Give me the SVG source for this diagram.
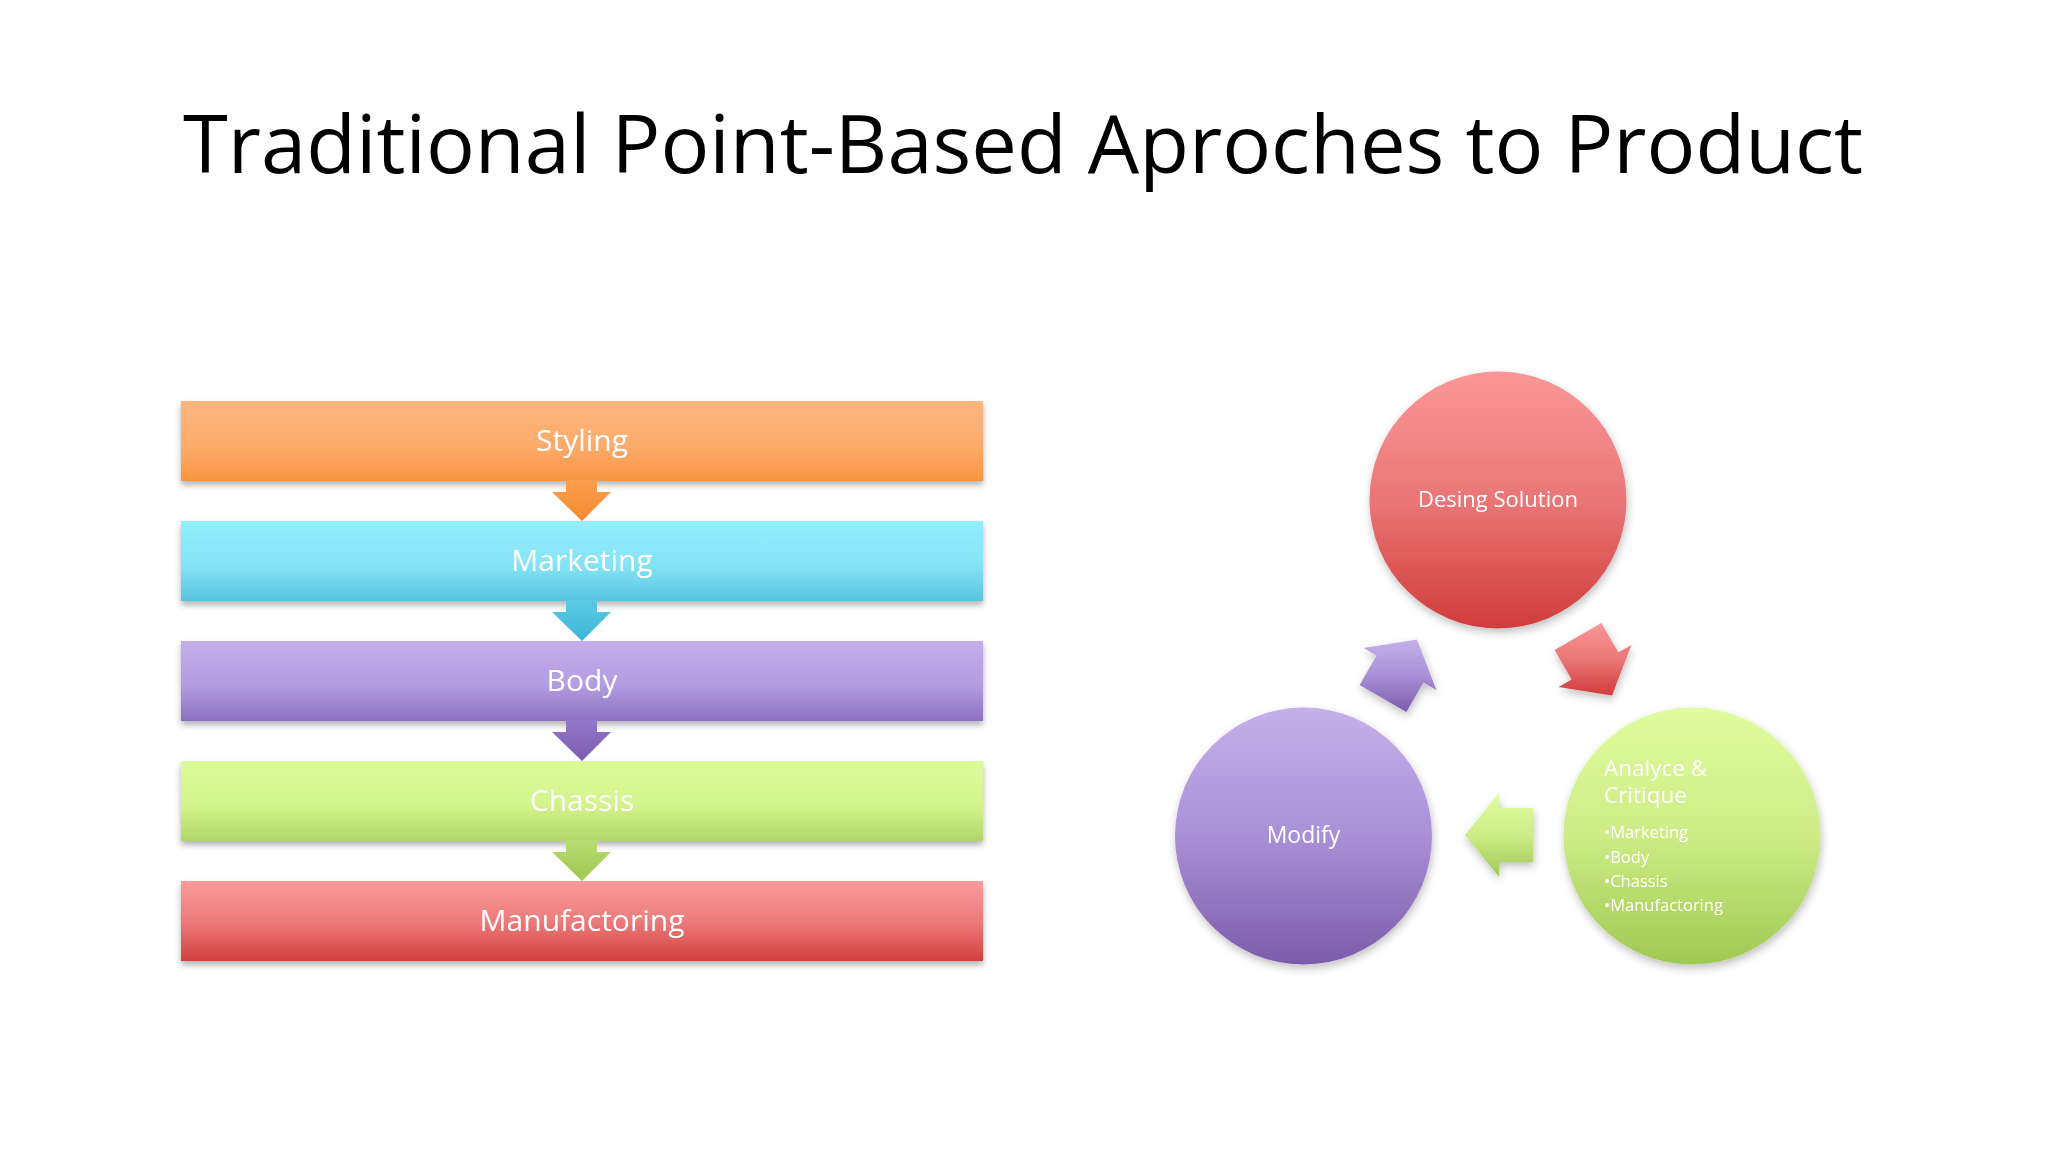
<svg xmlns="http://www.w3.org/2000/svg" width="2048" height="1152" viewBox="0 0 2048 1152">
<defs>
<style>
.title{font-family:"Open Sans","Noto Sans","Liberation Sans",sans-serif;font-size:80px;fill:#000}
.bt{font-family:"Open Sans","Noto Sans","Liberation Sans",sans-serif;font-size:30px;fill:#fff;text-anchor:middle}
.ct{font-family:"Open Sans","Noto Sans","Liberation Sans",sans-serif;font-size:22px;fill:#fff}
.sb{font-family:"Open Sans","Noto Sans","Liberation Sans",sans-serif;font-size:16.5px;fill:#fff}
.mid{text-anchor:middle}
</style>
<filter id="sh" x="-10%" y="-20%" width="120%" height="160%">
<feDropShadow dx="0" dy="4" stdDeviation="3" flood-color="#000" flood-opacity="0.3"/>
</filter>
<filter id="csh" x="-20%" y="-20%" width="140%" height="140%">
<feDropShadow dx="1" dy="4" stdDeviation="4" flood-color="#000" flood-opacity="0.25"/>
</filter>
<linearGradient id="gOr" x1="0" y1="0" x2="0" y2="1"><stop offset="0" stop-color="#fdb67e"/><stop offset="0.55" stop-color="#fcac6c"/><stop offset="1" stop-color="#f8953f"/></linearGradient>
<linearGradient id="gBl" x1="0" y1="0" x2="0" y2="1"><stop offset="0" stop-color="#93eefc"/><stop offset="0.55" stop-color="#86e3f5"/><stop offset="1" stop-color="#57c4df"/></linearGradient>
<linearGradient id="gPu" x1="0" y1="0" x2="0" y2="1"><stop offset="0" stop-color="#c3aeea"/><stop offset="0.55" stop-color="#b39ce0"/><stop offset="1" stop-color="#8b71c1"/></linearGradient>
<linearGradient id="gGr" x1="0" y1="0" x2="0" y2="1"><stop offset="0" stop-color="#defb9c"/><stop offset="0.55" stop-color="#d3f48c"/><stop offset="1" stop-color="#afd56a"/></linearGradient>
<linearGradient id="gRd" x1="0" y1="0" x2="0" y2="1"><stop offset="0" stop-color="#fa9c9c"/><stop offset="0.5" stop-color="#ec7b7b"/><stop offset="1" stop-color="#d33f3f"/></linearGradient>
<linearGradient id="aOr" x1="0" y1="0" x2="0" y2="1"><stop offset="0" stop-color="#fb9e50"/><stop offset="1" stop-color="#f58a30"/></linearGradient>
<linearGradient id="aBl" x1="0" y1="0" x2="0" y2="1"><stop offset="0" stop-color="#5ccbe4"/><stop offset="1" stop-color="#3db5d6"/></linearGradient>
<linearGradient id="aPu" x1="0" y1="0" x2="0" y2="1"><stop offset="0" stop-color="#9478ca"/><stop offset="1" stop-color="#7a5bb2"/></linearGradient>
<linearGradient id="aGr" x1="0" y1="0" x2="0" y2="1"><stop offset="0" stop-color="#b8dc72"/><stop offset="1" stop-color="#9ec752"/></linearGradient>
<linearGradient id="cRd" x1="0" y1="0" x2="0" y2="1"><stop offset="0" stop-color="#fb9797"/><stop offset="0.5" stop-color="#ea7676"/><stop offset="1" stop-color="#d13c3c"/></linearGradient>
<linearGradient id="cPu" x1="0" y1="0" x2="0" y2="1"><stop offset="0" stop-color="#c5b0eb"/><stop offset="0.5" stop-color="#a890d6"/><stop offset="1" stop-color="#7b5cab"/></linearGradient>
<linearGradient id="cGr" x1="0" y1="0" x2="0" y2="1"><stop offset="0" stop-color="#e1fc9f"/><stop offset="0.5" stop-color="#cdec86"/><stop offset="1" stop-color="#9fc953"/></linearGradient>
</defs>
<rect x="0" y="0" width="2048" height="1152" fill="#ffffff"/>
<text class="title" x="183" y="173" textLength="1680" lengthAdjust="spacingAndGlyphs">Traditional Point-Based Aproches to Product</text>

<g id="node-styling" filter="url(#sh)"><rect x="181" y="401" width="802" height="80" fill="url(#gOr)"/><text class="bt" x="582" y="451">Styling</text></g>
<g id="node-marketing" filter="url(#sh)"><rect x="181" y="521" width="802" height="80" fill="url(#gBl)"/><text class="bt" x="582" y="571">Marketing</text></g>
<g id="node-body" filter="url(#sh)"><rect x="181" y="641" width="802" height="80" fill="url(#gPu)"/><text class="bt" x="582" y="691">Body</text></g>
<g id="node-chassis" filter="url(#sh)"><rect x="181" y="761" width="802" height="80" fill="url(#gGr)"/><text class="bt" x="582" y="811">Chassis</text></g>
<g id="node-manufactoring" filter="url(#sh)"><rect x="181" y="881" width="802" height="80" fill="url(#gRd)"/><text class="bt" x="582" y="931">Manufactoring</text></g>

<g id="node-desing" filter="url(#csh)"><circle cx="1498" cy="500" r="128.5" fill="url(#cRd)"/><text class="ct mid" x="1498" y="507">Desing Solution</text></g>
<g id="node-modify" filter="url(#csh)"><circle cx="1303.5" cy="836" r="128.5" fill="url(#cPu)"/><text class="ct mid" x="1303.5" y="843" style="font-size:23px">Modify</text></g>
<g id="node-analyce" filter="url(#csh)"><circle cx="1692" cy="836" r="128.5" fill="url(#cGr)"/>
<text class="ct" x="1604" y="776" style="font-size:22.5px">Analyce &amp;</text>
<text class="ct" x="1604" y="803" style="font-size:22.5px">Critique</text>
<text class="sb" x="1604" y="838">•Marketing</text>
<text class="sb" x="1604" y="863">•Body</text>
<text class="sb" x="1604" y="887">•Chassis</text>
<text class="sb" x="1604" y="911">•Manufactoring</text>
</g>

<g id="connectors">
<polygon points="566,480 597,480 597,492 611,492 582,521 552,492 566,492" fill="url(#aOr)"/>
<polygon points="566,600 597,600 597,612 611,612 582,641 552,612 566,612" fill="url(#aBl)"/>
<polygon points="566,720 597,720 597,732 611,732 582,761 552,732 566,732" fill="url(#aPu)"/>
<polygon points="566,840 597,840 597,852 611,852 582,881 552,852 566,852" fill="url(#aGr)"/>
<polygon filter="url(#csh)" points="1417,639.6 1436.4,690 1423.4,682.5 1406.4,711.9 1359.6,684.9 1376.6,655.5 1363.6,648" fill="url(#cPu)"/>
<polygon filter="url(#csh)" points="1612,695.4 1558.6,687 1571.6,679.5 1554.6,650.1 1601.4,623.1 1618.4,652.5 1631.4,645" fill="url(#cRd)"/>
<polygon filter="url(#csh)" points="1465,835 1499,793 1499,808 1533,808 1533,862 1499,862 1499,877" fill="url(#cGr)"/>
</g>
</svg>
